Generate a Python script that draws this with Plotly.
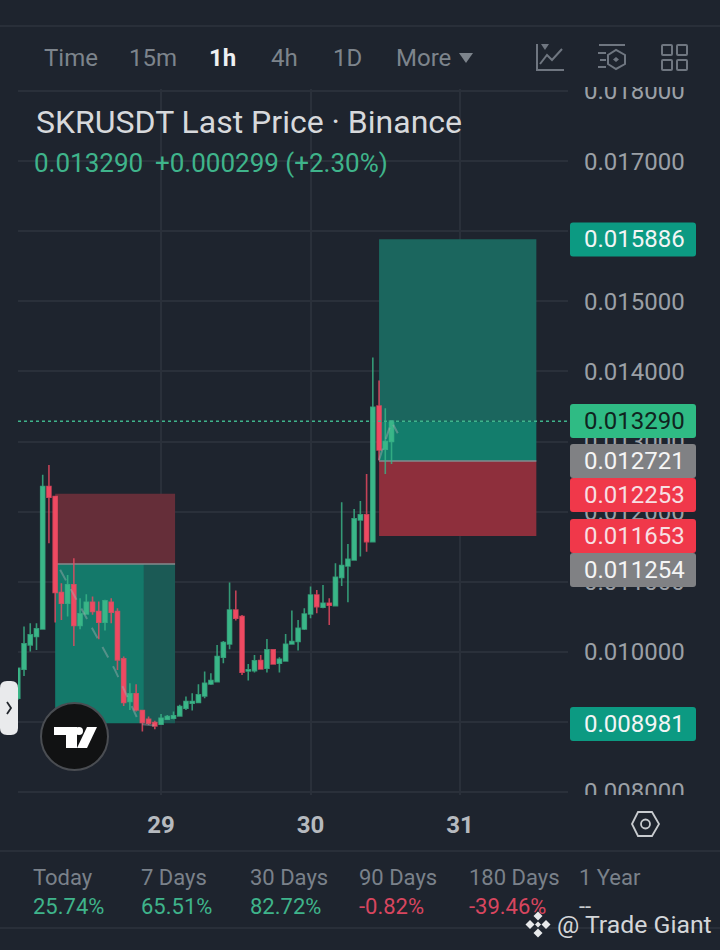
import pandas as pd
import plotly.graph_objects as go

# hourly candles (first one is Jan 28 01:00)
times = pd.date_range("2026-01-28 01:00", periods=61, freq="h")
opens = [0.009338, 0.009752, 0.010099, 0.010218, 0.010327, 0.012357, 0.012215, 0.010845, 0.010693, 0.010955,
         0.010375, 0.010541, 0.010707, 0.010574, 0.010422, 0.010707, 0.010574, 0.009899, 0.009290, 0.009400,
         0.009162, 0.009038, 0.008991, 0.008967, 0.009038, 0.009053, 0.009086, 0.009195, 0.009267, 0.009276,
         0.009371, 0.009542, 0.009575, 0.009922, 0.010112, 0.010597, 0.010502, 0.009727, 0.009732, 0.009875,
         0.009765, 0.010027, 0.009837, 0.009870, 0.010112, 0.010146, 0.010326, 0.010540, 0.010811, 0.010636,
         0.010693, 0.010659, 0.011059, 0.011225, 0.011311, 0.011881, 0.011953, 0.011572, 0.013507, 0.012889,
         0.012999]
highs = [0.009766, 0.010360, 0.010408, 0.010408, 0.012524, 0.012666, 0.012215, 0.010978, 0.011097, 0.011335,
         0.010764, 0.010821, 0.010788, 0.010717, 0.010741, 0.010764, 0.010622, 0.009932, 0.009552, 0.009538,
         0.009171, 0.009076, 0.009015, 0.009114, 0.009100, 0.009148, 0.009243, 0.009362, 0.009409, 0.009538,
         0.009718, 0.009694, 0.010098, 0.010155, 0.010987, 0.010873, 0.010526, 0.009827, 0.009955, 0.009955,
         0.010184, 0.010027, 0.009922, 0.010255, 0.010588, 0.010455, 0.010621, 0.010930, 0.010883, 0.010954,
         0.010764, 0.011263, 0.012133, 0.011539, 0.012038, 0.012152, 0.012537, 0.014197, 0.013869, 0.013474,
         0.013294]
lows = [0.009314, 0.009656, 0.010004, 0.010027, 0.010327, 0.011549, 0.010417, 0.010455, 0.010503, 0.010084,
        0.010322, 0.010541, 0.010527, 0.010179, 0.010303, 0.010408, 0.009742, 0.009228, 0.009171, 0.009148,
        0.008862, 0.008958, 0.008896, 0.008958, 0.009029, 0.009038, 0.009076, 0.009171, 0.009162, 0.009267,
        0.009337, 0.009528, 0.009566, 0.009837, 0.010036, 0.010445, 0.009670, 0.009589, 0.009704, 0.009751,
        0.009704, 0.009827, 0.009704, 0.009860, 0.010103, 0.010017, 0.010312, 0.010478, 0.010550, 0.010621,
        0.010383, 0.010645, 0.010940, 0.010707, 0.011301, 0.011358, 0.011429, 0.011572, 0.012728, 0.012537,
        0.012680]
closes = [0.009766, 0.010113, 0.010241, 0.010327, 0.012357, 0.012205, 0.010845, 0.010693, 0.010955, 0.010375,
          0.010541, 0.010707, 0.010574, 0.010422, 0.010726, 0.010565, 0.009885, 0.009276, 0.009400, 0.009171,
          0.008991, 0.008981, 0.008943, 0.009053, 0.009076, 0.009086, 0.009219, 0.009290, 0.009290, 0.009385,
          0.009551, 0.009589, 0.009932, 0.010131, 0.010597, 0.010479, 0.009708, 0.009742, 0.009870, 0.009756,
          0.010027, 0.009827, 0.009894, 0.010108, 0.010146, 0.010336, 0.010540, 0.010811, 0.010645, 0.010693,
          0.010664, 0.011063, 0.011230, 0.011320, 0.011896, 0.011953, 0.011572, 0.013488, 0.012880, 0.012999,
          0.013290]

# grey dashed projection lines
ghost_left_x = ["2026-01-28 07:48", "2026-01-28 11:00", "2026-01-28 16:36", "2026-01-28 18:12", "2026-01-28 20:36", "2026-01-28 23:18"]
ghost_left_y = [0.011169, 0.010646, 0.009742, 0.009433, 0.008972, 0.008943]
ghost_right_x = ["2026-01-30 11:00", "2026-01-30 12:24", "2026-01-30 13:00", "2026-01-30 14:00"]
ghost_right_y = [0.012737, 0.013141, 0.013284, 0.013118]

last_price = 0.013290
y_ticks = [0.008, 0.009, 0.010, 0.011, 0.012, 0.013, 0.014, 0.015, 0.016, 0.017, 0.018]
x_ticks = ["2026-01-29", "2026-01-30", "2026-01-31"]
x_labels = ["29", "30", "31"]

badge_labels = ["0.015886", "0.013290", "0.012721", "0.012253", "0.011653", "0.011254", "0.008981"]
badge_centers = [239.5, 421, 461, 495, 536, 570, 724]
badge_colors = ["#0c9a82", "#2fbb84", "#808184", "#f0384a", "#f0384a", "#808184", "#0c9a82"]
badge_text = ["#f2f5f5", "#10241f", "#f5f5f5", "#f7dfe2", "#f7dfe2", "#f5f5f5", "#f2f5f5"]

tabs = ["Time", "15m", "1h", "4h", "1D", "More"]
tab_x = [44, 129, 209, 271, 333, 396]
period_names = ["Today", "7 Days", "30 Days", "90 Days", "180 Days", "1 Year"]
period_values = ["25.74%", "65.51%", "82.72%", "-0.82%", "-39.46%", "--"]
period_x = [33, 141, 250, 359, 469, 579]
period_colors = ["#3fb48b", "#3fb48b", "#3fb48b", "#d8465f", "#d8465f", "#c9ccd0"]

BG = "#1e242e"
GRID = "#2a303a"
FONT = "Roboto"


def px(x):
    return x / 720


def py(y):
    return 1 - y / 950


def poly(points, close=False):
    path = "M " + " L ".join(f"{px(x):.5f},{py(y):.5f}" for x, y in points)
    return path + (" Z" if close else "")


def rrect(x0, y0, x1, y1, r):
    return (f"M {px(x0 + r):.5f},{py(y0):.5f} L {px(x1 - r):.5f},{py(y0):.5f} "
            f"Q {px(x1):.5f},{py(y0):.5f} {px(x1):.5f},{py(y0 + r):.5f} L {px(x1):.5f},{py(y1 - r):.5f} "
            f"Q {px(x1):.5f},{py(y1):.5f} {px(x1 - r):.5f},{py(y1):.5f} L {px(x0 + r):.5f},{py(y1):.5f} "
            f"Q {px(x0):.5f},{py(y1):.5f} {px(x0):.5f},{py(y1 - r):.5f} L {px(x0):.5f},{py(y0 + r):.5f} "
            f"Q {px(x0):.5f},{py(y0):.5f} {px(x0 + r):.5f},{py(y0):.5f} Z")


def text(fig, s, x, y, size, color, anchor="left", bold=False):
    # annotations carry about 2px of padding
    fig.add_annotation(text=f"<b>{s}</b>" if bold else s, x=px(x - 2), y=py(y), xref="paper", yref="paper",
                       xanchor=anchor, yanchor="middle", showarrow=False,
                       font=dict(family=FONT, size=size, color=color))


def icon(fig, path, color="#6f7680", fill=None, width=2):
    fig.add_shape(type="path", path=path, xref="paper", yref="paper", layer="above",
                  line=dict(color=color, width=width), fillcolor=fill)


def box(fig, x0, x1, y0, y1, color):
    fig.add_shape(type="rect", x0=x0, x1=x1, y0=y0, y1=y1, xref="x", yref="y", layer="between",
                  fillcolor=color, line=dict(width=0))


fig = go.Figure()

fig.add_trace(go.Candlestick(
    x=times, open=opens, high=highs, low=lows, close=closes,
    increasing=dict(line=dict(color="rgba(58,182,136,0.8)", width=1.6), fillcolor="#3ab688"),
    decreasing=dict(line=dict(color="rgba(238,74,98,0.8)", width=1.6), fillcolor="#ee4a62"),
    whiskerwidth=0, showlegend=False,
))
for gx, gy in [(ghost_left_x, ghost_left_y), (ghost_right_x, ghost_right_y)]:
    fig.add_trace(go.Scatter(x=gx, y=gy, mode="lines", showlegend=False,
                             line=dict(color="rgba(165,172,175,0.45)", width=2, dash="12px,10px")))

# left position
box(fig, "2026-01-28 07:00", "2026-01-29 02:15", 0.011254, 0.012253, "#652e39")
box(fig, "2026-01-28 07:00", "2026-01-28 21:15", 0.008981, 0.011254, "#14796a")
box(fig, "2026-01-28 21:15", "2026-01-29 02:15", 0.008981, 0.011254, "#1b5a55")
# right position
box(fig, "2026-01-30 11:00", "2026-01-31 12:15", 0.011653, 0.012721, "#8e2f3c")
box(fig, "2026-01-30 11:00", "2026-01-31 12:15", 0.012721, last_price, "#137d6c")
box(fig, "2026-01-30 11:00", "2026-01-31 12:15", last_price, 0.015886, "#1b665e")

for x0, x1, level in [("2026-01-28 07:00", "2026-01-29 02:15", 0.011254),
                      ("2026-01-30 11:00", "2026-01-31 12:15", 0.012721)]:
    fig.add_shape(type="line", x0=x0, x1=x1, y0=level, y1=level, xref="x", yref="y", layer="between",
                  line=dict(color="#858b8e", width=1.5))

# last price dotted line
fig.add_shape(type="line", x0=0, x1=1, y0=last_price, y1=last_price, xref="x domain", yref="y",
              line=dict(color="#3fb48b", width=1.5, dash="dot"))

# covers that cut the top and bottom axis labels
fig.add_shape(type="rect", x0=0, x1=1, y0=py(87), y1=1, xref="paper", yref="paper", layer="above",
              fillcolor=BG, line=dict(width=0))
fig.add_shape(type="rect", x0=px(570), x1=1, y0=py(851), y1=py(795), xref="paper", yref="paper", layer="above",
              fillcolor=BG, line=dict(width=0))
for ly in [26, 851, 928]:
    icon(fig, poly([(0, ly), (720, ly)]), color="#343a44", width=1.2)

# price badges
for label, cy, color, tc in zip(badge_labels, badge_centers, badge_colors, badge_text):
    icon(fig, rrect(570, cy - 17, 696, cy + 17, 3), color=color, fill=color, width=0)
    text(fig, label, 584, cy, 24, tc)

# toolbar
for name, x in zip(tabs, tab_x):
    if name == "1h":
        text(fig, name, x, 58, 24, "#eef0f2", bold=True)
    else:
        text(fig, name, x, 58, 24, "#7d848c")
icon(fig, poly([(459, 53), (473, 53), (466, 63)], close=True), color="#7d848c", fill="#7d848c", width=0)

# toolbar icons
icon(fig, poly([(537, 44), (537, 70), (564, 70)]))
icon(fig, poly([(541, 44), (549, 44), (545, 50)], close=True), fill="#6f7680", width=0)
icon(fig, poly([(540, 64), (547, 55), (552, 60), (562, 49)]))
icon(fig, poly([(599, 45), (625, 45)]))
icon(fig, poly([(598, 53), (606, 53)]))
icon(fig, poly([(600, 60), (606, 60)]))
icon(fig, poly([(598, 67), (606, 67)]))
icon(fig, poly([(616, 50), (625, 55), (625, 64), (616, 69), (608, 64), (608, 55)], close=True))
icon(fig, poly([(616, 57), (619, 59.5), (616, 62), (613, 59.5)], close=True), fill="#6f7680", width=0)
for x0, y0 in [(662, 45), (677, 45), (662, 60), (677, 60)]:
    icon(fig, rrect(x0, y0, x0 + 10, y0 + 10, 1))

# header
text(fig, "SKRUSDT Last Price · Binance", 36, 122, 32, "#d7d9dc")
text(fig, "0.013290", 34, 163, 26, "#3fb48b")
text(fig, "+0.000299 (+2.30%)", 155, 163, 26, "#3fb48b")

# left handle and TradingView logo
icon(fig, rrect(0, 681, 18, 735, 7), color="#e9eaec", fill="#e9eaec", width=0)
icon(fig, poly([(7, 702), (11, 708), (7, 714)]), color="#22262c", width=1.8)
fig.add_shape(type="circle", x0=px(41), x1=px(108), y0=py(770), y1=py(703), xref="paper", yref="paper",
              layer="above", fillcolor="#111213", line=dict(color="#4a4d52", width=2))
icon(fig, poly([(54, 727), (77, 727), (77, 748), (66, 748), (66, 735), (54, 735)], close=True), color="#fff", fill="#fff", width=0)
fig.add_shape(type="circle", x0=px(75), x1=px(83), y0=py(735), y1=py(727), xref="paper", yref="paper",
              layer="above", fillcolor="#fff", line=dict(width=0))
icon(fig, poly([(87, 727), (97, 727), (87, 748), (77, 748)], close=True), color="#fff", fill="#fff", width=0)

# hexagon icon by the time axis
icon(fig, poly([(632, 824), (638, 812), (652, 812), (659, 824), (652, 836), (638, 836)], close=True),
     color="#c8cbcf", width=1.8)
fig.add_shape(type="circle", x0=px(641), x1=px(650), y0=py(828.5), y1=py(819.5), xref="paper", yref="paper",
              layer="above", line=dict(color="#c8cbcf", width=1.8))

# period stats
for name, value, x, color in zip(period_names, period_values, period_x, period_colors):
    text(fig, name, x, 877, 22, "#7a818a")
    text(fig, value, x, 906, 22, color)

# watermark
for cx, cy in [(538, 916), (530, 924.5), (546, 924.5), (538, 933)]:
    icon(fig, poly([(cx, cy - 4.5), (cx + 4.5, cy), (cx, cy + 4.5), (cx - 4.5, cy)], close=True),
         color="#e8e9eb", fill="#e8e9eb", width=0)
icon(fig, poly([(538, 921.5), (541, 924.5), (538, 927.5), (535, 924.5)], close=True), color="#e8e9eb", fill="#e8e9eb", width=0)
text(fig, "@ Trade Giant", 557, 924, 24.8, "#d4d6d9")

fig.update_layout(
    width=720, height=950,
    margin=dict(l=0, r=0, t=0, b=0),
    paper_bgcolor=BG, plot_bgcolor=BG,
    boxgap=0.08,
    hovermode=False,
    xaxis=dict(
        domain=[px(18), px(568)],
        range=["2026-01-28 01:02", "2026-01-31 17:20"],
        type="date",
        automargin=False,
        rangeslider=dict(visible=False),
        tickvals=x_ticks, ticktext=x_labels,
        tickfont=dict(family=FONT, size=24, color="#b6babf", weight="bold"),
        ticks="", showline=False, zeroline=False,
        showgrid=True, gridcolor=GRID, gridwidth=1.5,
        ticklabelstandoff=13,
    ),
    yaxis=dict(
        domain=[py(795), py(89)],
        range=[0.0079572, 0.0180285],
        side="right",
        automargin=False,
        tickvals=y_ticks, tickformat=".6f",
        tickfont=dict(family=FONT, size=24, color="#9ba0a6"),
        ticks="", showline=False, zeroline=False,
        showgrid=True, gridcolor=GRID, gridwidth=1.5,
        ticklabelstandoff=15,
    ),
)

fig.write_html("out.html", config=dict(displayModeBar=False),
               post_script="document.body.style.margin='0';")
